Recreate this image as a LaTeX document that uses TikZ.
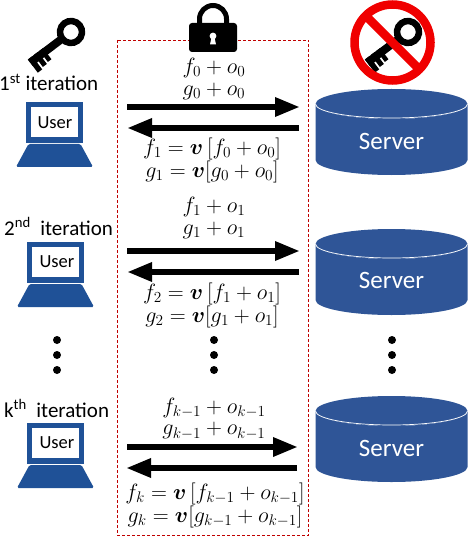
\documentclass[tikz,border=0pt]{standalone}
\usepackage{amsmath}
\usepackage{bm}
\usepackage{fontspec}
\setmainfont{Carlito}
\usepackage{xcolor}
\usetikzlibrary{positioning, arrows.meta, calc}
\definecolor{userBlue}{HTML}{1F5197}
\definecolor{serverBlue}{HTML}{2F5597}
\definecolor{boxRed}{HTML}{C00000}
\definecolor{banRed}{HTML}{F00000}

\begin{document}
\begin{tikzpicture}[
        x=1pt, y=-1pt,
        every node/.style={inner sep=0pt},
        iterlabel/.style={font=\fontsize{21}{24}\selectfont, anchor=base west},
        formula/.style={font=\fontsize{20.74}{24}\selectfont, scale=1.065},
        userlabel/.style={font=\fontsize{18.5}{22}\selectfont},
        serverlabel/.style={font=\fontsize{25}{28}\selectfont, text=white},
        arr/.style={-{Triangle[length=25pt, width=18pt]}, line width=6pt, black},
        vdot/.style={circle, fill=black, minimum size=8pt},
        pics/laptop/.style={code={
            \fill[userBlue] (-28.5,-41) rectangle (28.5,0);
            \fill[white] (-23.5,-36) rectangle (23.5,-6);
            \fill[userBlue, rounded corners=1.5pt] (-26,1) -- (26,1) -- (38.5,24) -- (-38.5,24) -- cycle;
        }},
        pics/cylinder/.style={code={
            \fill[serverBlue] (-76,0) arc[start angle=180, end angle=0, x radius=76, y radius=15]
                -- (76,-56) arc[start angle=0, end angle=180, x radius=76, y radius=15] -- cycle;
            \fill[serverBlue] (0,-56) ellipse[x radius=76, y radius=15];
            \draw[white, line width=0.7pt] (-76,-56) arc[start angle=180, end angle=0, x radius=76, y radius=14];
        }},
        pics/keyicon/.style={code={
            \draw[black, line width=6.5pt] (0,0) circle[radius=11];
            \fill[black] (-13,-4) rectangle (-51,4);
            \fill[black] (-51,-4) rectangle (-45.5,12.5);
            \fill[black] (-43.5,-4) rectangle (-38.5,11);
            \fill[black] (-36.5,-4) rectangle (-32,10);
        }},
      ]
        \useasboundingbox (0,0) rectangle (474,540);
        \fill[white] (0,0) rectangle (474,540);

        % Dashed box around the exchanged messages
        \draw[boxRed, densely dashed, line width=0.7pt] (117.5,40) rectangle (308.5,535.5);

        % Key, lock and crossed-out key
        \pic[rotate=37] (userkey) at (71,32) {keyicon};

        \fill[black, rounded corners=3pt] (189,23) rectangle (237,52);
        \draw[black, line width=5pt] (199.5,26) -- (199.5,19) arc[start angle=180, end angle=360, radius=13.5] -- (226.5,26);
        \fill[white] (213,36) circle[radius=3.4];
        \fill[white] (211.8,36) -- (214.2,36) -- (216,44.5) -- (210,44.5) -- cycle;

        \pic[rotate=37] (serverkey) at (408,32) {keyicon};
        \draw[banRed, line width=8.5pt] (392.5,42.5) circle[radius=38];
        \draw[banRed, line width=8.5pt] (365.5,15.5) -- (419.5,69.5);

        % 1st iteration
        \node[iterlabel] (iter1) at (-1,91) {1\textsuperscript{st} iteration};
        \pic (user1) at (54.5,143) {laptop};
        \node[userlabel] (userText1) at (55,123) {User};
        \node[formula] (up1a) at (214,68) {$f_0+o_0$};
        \node[formula] (up1b) at (214,91) {$g_0+o_0$};
        \coordinate (a1) at (127,107);
        \coordinate (b1) at (300,107);
        \coordinate (c1) at (299,128);
        \coordinate (d1) at (127,128);
        \draw[arr] (a1) -- (b1);
        \draw[arr] (c1) -- (d1);
        \node[formula] (down1a) at (212,149) {$f_1=\bm{v}\,[f_0+o_0]$};
        \node[formula] (down1b) at (212,172) {$g_1=\bm{v}[g_0+o_0]$};
        \pic (server1) at (391.5,160) {cylinder};
        \node[serverlabel] (serverText1) at (391.5,141) {Server};

        % 2nd iteration
        \node[iterlabel] (iter2) at (4,235) {2\textsuperscript{nd}\ \ iteration};
        \pic (user2) at (55.5,283) {laptop};
        \node[userlabel] (userText2) at (57,262) {User};
        \node[formula] (up2a) at (214,207) {$f_1+o_1$};
        \node[formula] (up2b) at (214,230) {$g_1+o_1$};
        \coordinate (a2) at (127,251);
        \coordinate (b2) at (300,251);
        \coordinate (c2) at (299,272);
        \coordinate (d2) at (127,272);
        \draw[arr] (a2) -- (b2);
        \draw[arr] (c2) -- (d2);
        \node[formula] (down2a) at (212,294) {$f_2=\bm{v}\,[f_1+o_1]$};
        \node[formula] (down2b) at (212,317) {$g_2=\bm{v}[g_1+o_1]$};
        \pic (server2) at (391.5,300) {cylinder};
        \node[serverlabel] (serverText2) at (391.5,280) {Server};

        % Dots between the rows
        \foreach \dotx/\dotname in {57/left, 214/mid, 392/right}{
            \node[vdot] (\dotname1) at (\dotx,340) {};
            \node[vdot] (\dotname2) at (\dotx,355) {};
            \node[vdot] (\dotname3) at (\dotx,370) {};
        }

        % kth iteration
        \node[iterlabel] (iterk) at (4,417) {k\textsuperscript{th}\ \ iteration};
        \pic (userk) at (55.5,464) {laptop};
        \node[userlabel] (userTextk) at (57,443) {User};
        \node[formula] (upka) at (214,408) {$f_{k-1}+o_{k-1}$};
        \node[formula] (upkb) at (214,431) {$g_{k-1}+o_{k-1}$};
        \coordinate (ak) at (127,447);
        \coordinate (bk) at (298,447);
        \coordinate (ck) at (297,468);
        \coordinate (dk) at (126,468);
        \draw[arr] (ak) -- (bk);
        \draw[arr] (ck) -- (dk);
        \node[formula] (downka) at (215,494) {$f_k=\bm{v}\,[f_{k-1}+o_{k-1}]$};
        \node[formula] (downkb) at (215,517) {$g_k=\bm{v}[g_{k-1}+o_{k-1}]$};
        \pic (serverk) at (391.5,467) {cylinder};
        \node[serverlabel] (serverTextk) at (391.5,448) {Server};
      \end{tikzpicture}
\end{document}
